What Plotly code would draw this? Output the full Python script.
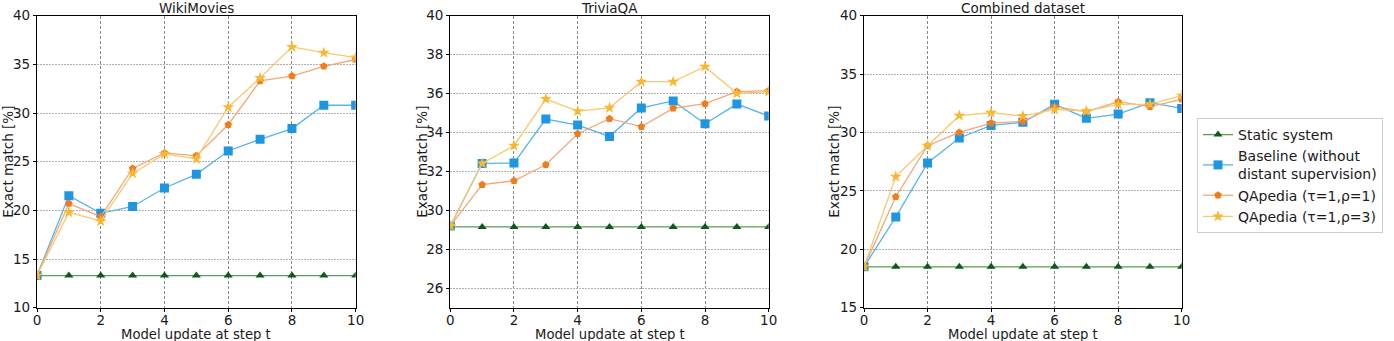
import plotly.graph_objects as go

steps = list(range(11))

# WikiMovies
wiki_static = [13.3] * 11
wiki_baseline = [13.3, 21.5, 19.7, 20.4, 22.3, 23.7, 26.1, 27.3, 28.4, 30.8, 30.8]
wiki_rho1 = [13.3, 20.7, 19.35, 24.3, 25.9, 25.6, 28.8, 33.3, 33.8, 34.8, 35.5]
wiki_rho3 = [13.3, 19.8, 18.9, 23.8, 25.8, 25.3, 30.6, 33.6, 36.8, 36.2, 35.7]

# TriviaQA
trivia_static = [29.15] * 11
trivia_baseline = [29.2, 32.41, 32.43, 34.69, 34.38, 33.8, 35.26, 35.62, 34.45, 35.46, 34.85]
trivia_rho1 = [29.2, 31.32, 31.52, 32.34, 33.94, 34.71, 34.3, 35.24, 35.48, 36.1, 36.15]
trivia_rho3 = [29.2, 32.41, 33.32, 35.72, 35.1, 35.27, 36.61, 36.61, 37.38, 36.01, 36.1]

# Combined dataset
comb_static = [18.5] * 11
comb_baseline = [18.5, 22.76, 27.39, 29.53, 30.61, 30.87, 32.41, 31.21, 31.58, 32.55, 32.06]
comb_rho1 = [18.5, 24.5, 28.87, 30.01, 30.81, 30.95, 32.21, 31.78, 32.64, 32.21, 32.84]
comb_rho3 = [18.5, 26.22, 28.87, 31.44, 31.69, 31.41, 31.98, 31.84, 32.41, 32.43, 33.15]

titles = ["WikiMovies", "TriviaQA", "Combined dataset"]
y_ranges = [[10, 40], [25, 40], [15, 40]]
y_ticks = [list(range(10, 41, 5)), list(range(26, 41, 2)), list(range(15, 41, 5))]
x_ticks = list(range(0, 11, 2))

series_names = ["Static system", "Baseline (without<br>distant supervision)",
                "QApedia (τ=1,ρ=1)", "QApedia (τ=1,ρ=3)"]
line_colors = ["#5a9a5a", "#5ab4e8", "#f2a878", "#f8c870"]
marker_colors = ["#0d5a1a", "#1f96e0", "#f07c1c", "#f8b830"]
marker_symbols = ["triangle-up", "square", "pentagon", "star"]
marker_sizes = [8, 9, 8, 9]

data = [
    [wiki_static, wiki_baseline, wiki_rho1, wiki_rho3],
    [trivia_static, trivia_baseline, trivia_rho1, trivia_rho3],
    [comb_static, comb_baseline, comb_rho1, comb_rho3],
]

W, H = 1394, 341
x_dom_px = [(37, 355.7), (450.3, 768.7), (864, 1181.7)]
y_dom = [1 - 307.7 / H, 1 - 15.7 / H]
ytitle_x_px = [8, 422, 834]

fig = go.Figure()
FONT = "DejaVu Sans"
TXT = "#1a1a1a"

for p in range(3):
    xa = "x" if p == 0 else f"x{p+1}"
    ya = "y" if p == 0 else f"y{p+1}"
    for s in range(4):
        fig.add_trace(go.Scatter(
            x=steps, y=data[p][s], xaxis=xa, yaxis=ya,
            mode="lines+markers", name=series_names[s],
            legendgroup=series_names[s], showlegend=(p == 0),
            line=dict(color=line_colors[s], width=1.3),
            marker=dict(color=marker_colors[s], symbol=marker_symbols[s],
                        size=marker_sizes[s], line=dict(width=0)),
        ))
    dom = [x_dom_px[p][0] / W, x_dom_px[p][1] / W]
    axis_common = dict(showline=True, linecolor="black", linewidth=1.3, mirror=True,
                       ticks="outside", ticklen=3, tickwidth=1, tickcolor="black",
                       tickfont=dict(family=FONT, size=13.5, color=TXT),
                       zeroline=False, automargin=False)
    xkey = "xaxis" if p == 0 else f"xaxis{p+1}"
    ykey = "yaxis" if p == 0 else f"yaxis{p+1}"
    fig.update_layout(**{
        xkey: dict(domain=dom, range=[0, 10], tickvals=x_ticks, anchor=ya,
                   showgrid=True, gridcolor="#888", griddash="3px,2px", gridwidth=0.8,
                   ticklabelstandoff=-3, **axis_common),
        ykey: dict(domain=y_dom, range=y_ranges[p], tickvals=y_ticks[p], anchor=xa,
                   showgrid=True, gridcolor="#b0b0b0", griddash="2px,1px", gridwidth=1,
                   **axis_common),
    })
    cx = (dom[0] + dom[1]) / 2
    fig.add_annotation(text=titles[p], x=cx, y=1 - 8 / H, xref="paper", yref="paper",
                       showarrow=False, font=dict(family=FONT, size=13.5, color=TXT),
                       xanchor="center", yanchor="middle")
    fig.add_annotation(text="Model update at step t", x=cx, y=1 - 334 / H,
                       xref="paper", yref="paper", showarrow=False,
                       font=dict(family=FONT, size=13.2, color=TXT),
                       xanchor="center", yanchor="middle")
    fig.add_annotation(text="Exact match [%]", x=ytitle_x_px[p] / W,
                       y=(y_dom[0] + y_dom[1]) / 2, xref="paper", yref="paper",
                       showarrow=False, textangle=-90,
                       font=dict(family=FONT, size=13.5, color=TXT),
                       xanchor="center", yanchor="middle")

fig.update_layout(
    width=W, height=H,
    margin=dict(l=0, r=0, t=0, b=0),
    paper_bgcolor="white", plot_bgcolor="white",
    font=dict(family=FONT, size=14, color=TXT),
    legend=dict(x=1197 / W, y=1 - 118 / H, xanchor="left", yanchor="top",
                bordercolor="#ccc", borderwidth=1, bgcolor="white",
                font=dict(family=FONT, size=14, color=TXT),
                tracegroupgap=0, itemwidth=30),
    showlegend=True,
)

fig.write_html("out.html", config={"displayModeBar": False},
               post_script="document.body.style.margin='0';document.body.style.overflow='hidden';")
